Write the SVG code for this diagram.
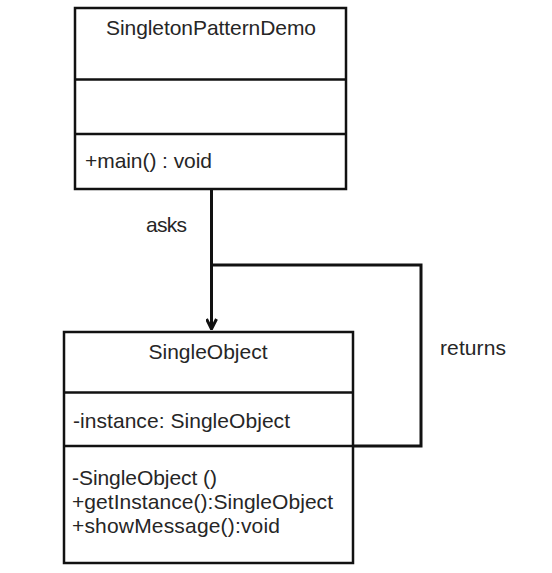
<svg xmlns="http://www.w3.org/2000/svg" width="552" height="573" viewBox="0 0 552 573">
  <style>
    .box { fill: #ffffff; stroke: #111111; stroke-width: 2.5; }
    .div { stroke: #111111; stroke-width: 2.5; fill: none; }
    .txt { font-family: "Liberation Sans", Arial, sans-serif; font-size: 21px; fill: #262626; }
    .title { text-anchor: middle; }
    .conn { stroke: #111111; stroke-width: 3; fill: none; }
  </style>
  <defs>
    <marker id="arrow" viewBox="0 0 12 12" refX="11" refY="6" markerWidth="12" markerHeight="12" markerUnits="userSpaceOnUse" orient="auto">
      <path d="M1,1 L11,6 L1,11" fill="none" stroke="#111111" stroke-width="3"/>
    </marker>
  </defs>
  <rect width="552" height="573" fill="#ffffff"/>

  <g id="SingletonPatternDemo">
    <rect class="box" x="75" y="8" width="271" height="181"/>
    <line class="div" x1="75" y1="79.5" x2="346" y2="79.5"/>
    <line class="div" x1="75" y1="134" x2="346" y2="134"/>
    <text class="txt title" x="211" y="35" textLength="210">SingletonPatternDemo</text>
    <text class="txt" x="85" y="168" textLength="127">+main() : void</text>
  </g>

  <g id="SingleObject">
    <rect class="box" x="64" y="332" width="289" height="231"/>
    <line class="div" x1="64" y1="392.5" x2="353" y2="392.5"/>
    <line class="div" x1="64" y1="446" x2="353" y2="446"/>
    <text class="txt title" x="208" y="359" textLength="119">SingleObject</text>
    <text class="txt" x="73" y="428" textLength="217">-instance: SingleObject</text>
    <text class="txt" x="72" y="485" textLength="145">-SingleObject ()</text>
    <text class="txt" x="72" y="509" textLength="261">+getInstance():SingleObject</text>
    <text class="txt" x="72" y="533" textLength="208">+showMessage():void</text>
  </g>

  <g id="connectors">
    <line class="conn" x1="211.5" y1="189" x2="211.5" y2="329" marker-end="url(#arrow)"/>
    <polyline class="conn" points="211.5,265 421,265 421,446 353,446"/>
    <text class="txt" x="146" y="232" textLength="41">asks</text>
    <text class="txt" x="440" y="355" textLength="66">returns</text>
  </g>
</svg>
